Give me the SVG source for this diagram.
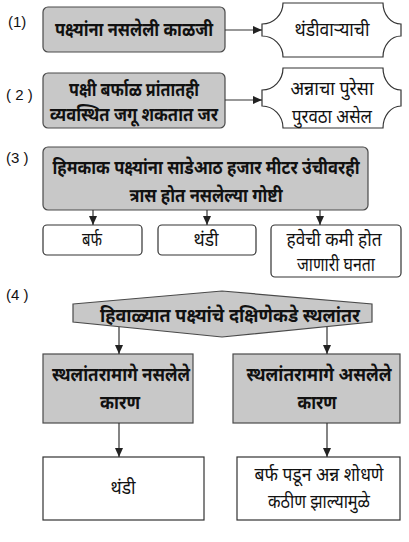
<svg xmlns="http://www.w3.org/2000/svg" width="409" height="542" viewBox="0 0 409 542">
<style>
.gray{fill:#c8c8c8;stroke:#4a4a4a;stroke-width:1.2}
.white{fill:#ffffff;stroke:#333333;stroke-width:1.2}
.t{font-family:"Noto Sans Devanagari","Noto Sans",sans-serif;font-size:19px;fill:#111;text-anchor:middle}
.b{font-weight:bold}
.num{font-family:"Liberation Sans",Arial,sans-serif;font-size:15px;fill:#111}
.conn line{stroke:#333;stroke-width:1.2}
</style>
<defs>
<marker id="ah" markerUnits="userSpaceOnUse" markerWidth="9" markerHeight="8" refX="9" refY="4" orient="auto">
<path d="M0,0 L9,4 L0,8 z" fill="#222"/>
</marker>
</defs>
<rect width="409" height="542" fill="#fff"/>
<text class="num" x="8" y="27">(1)</text>
<text class="num" x="6" y="100">( 2 )</text>
<text class="num" x="6" y="163">(3 )</text>
<text class="num" x="6" y="300">(4 )</text>

<g id="n1">
<rect class="gray" x="43" y="7" width="182" height="45" rx="5"/>
<text class="t b" x="134" y="36" textLength="158" lengthAdjust="spacingAndGlyphs">पक्ष्यांना नसलेली काळजी</text>
</g>
<g id="n1r">
<path class="white" d="M283,3 H383 A18,21 0 0 0 401,24 V36 A18,21 0 0 0 383,57 H283 A21,21 0 0 0 262,36 V24 A21,21 0 0 0 283,3 Z"/>
<text class="t" x="332" y="36" textLength="75" lengthAdjust="spacingAndGlyphs">थंडीवाऱ्याची</text>
</g>
<g id="n2">
<rect class="gray" x="43" y="73" width="182" height="55" rx="5"/>
<text class="t b" x="134" y="96" textLength="130" lengthAdjust="spacingAndGlyphs">पक्षी बर्फाळ प्रांतातही</text>
<text class="t b" x="134" y="121" textLength="168" lengthAdjust="spacingAndGlyphs">व्यवस्थित जगू शकतात जर</text>
</g>
<g id="n2r">
<path class="white" d="M283,68 H383 A18,22 0 0 0 401,90 V106 A18,22 0 0 0 383,128 H283 A21,22 0 0 0 262,106 V90 A21,22 0 0 0 283,68 Z"/>
<text class="t" x="332" y="95" textLength="83" lengthAdjust="spacingAndGlyphs">अन्नाचा पुरेसा</text>
<text class="t" x="332" y="123" textLength="80" lengthAdjust="spacingAndGlyphs">पुरवठा असेल</text>
</g>
<g id="n3">
<rect class="gray" x="43" y="147" width="325" height="63" rx="5"/>
<text class="t b" x="206" y="174" textLength="307" lengthAdjust="spacingAndGlyphs">हिमकाक पक्ष्यांना साडेआठ हजार मीटर उंचीवरही</text>
<text class="t b" x="206" y="202" textLength="153" lengthAdjust="spacingAndGlyphs">त्रास होत नसलेल्या गोष्टी</text>
</g>
<g id="n3a">
<rect class="white" x="43" y="225" width="99" height="30" rx="4"/>
<text class="t" x="92" y="246" textLength="20" lengthAdjust="spacingAndGlyphs">बर्फ</text>
</g>
<g id="n3b">
<rect class="white" x="158" y="225" width="98" height="30" rx="4"/>
<text class="t" x="206" y="246" textLength="25" lengthAdjust="spacingAndGlyphs">थंडी</text>
</g>
<g id="n3c">
<rect class="white" x="271" y="225" width="130" height="52" rx="4"/>
<text class="t" x="334" y="246" textLength="95" lengthAdjust="spacingAndGlyphs">हवेची कमी होत</text>
<text class="t" x="336" y="271" textLength="78" lengthAdjust="spacingAndGlyphs">जाणारी घनता</text>
</g>
<g id="n4">
<polygon class="gray" points="73,304 222,291 372,304 372,322 222,337 73,322"/>
<text class="t b" x="230" y="322" textLength="260" lengthAdjust="spacingAndGlyphs">हिवाळ्यात पक्ष्यांचे दक्षिणेकडे स्थलांतर</text>
</g>
<g id="n4l">
<rect class="gray" x="43" y="354" width="150" height="69"/>
<text class="t b" x="121" y="381" textLength="138" lengthAdjust="spacingAndGlyphs">स्थलांतरामागे नसलेले</text>
<text class="t b" x="120" y="409" textLength="40" lengthAdjust="spacingAndGlyphs">कारण</text>
</g>
<g id="n4r">
<rect class="gray" x="233" y="354" width="167" height="69"/>
<text class="t b" x="319" y="381" textLength="145" lengthAdjust="spacingAndGlyphs">स्थलांतरामागे असलेले</text>
<text class="t b" x="317" y="409" textLength="39" lengthAdjust="spacingAndGlyphs">कारण</text>
</g>
<g id="n5l">
<rect class="white" x="43" y="457" width="161" height="63"/>
<text class="t" x="123" y="494" textLength="25" lengthAdjust="spacingAndGlyphs">थंडी</text>
</g>
<g id="n5r">
<rect class="white" x="237" y="457" width="163" height="63"/>
<text class="t" x="319" y="481" textLength="129" lengthAdjust="spacingAndGlyphs">बर्फ पडून अन्न शोधणे</text>
<text class="t" x="319" y="508" textLength="102" lengthAdjust="spacingAndGlyphs">कठीण झाल्यामुळे</text>
</g>

<g id="connectors" class="conn">
<line x1="225" y1="30" x2="262" y2="30" marker-end="url(#ah)"/>
<line x1="225" y1="100" x2="262" y2="100" marker-end="url(#ah)"/>
<line x1="93" y1="210" x2="93" y2="225" marker-end="url(#ah)"/>
<line x1="207" y1="210" x2="207" y2="225" marker-end="url(#ah)"/>
<line x1="320" y1="210" x2="320" y2="225" marker-end="url(#ah)"/>
<line x1="119" y1="327" x2="119" y2="354" marker-end="url(#ah)"/>
<line x1="327" y1="327" x2="327" y2="354" marker-end="url(#ah)"/>
<line x1="119" y1="423" x2="119" y2="457" marker-end="url(#ah)"/>
<line x1="327" y1="423" x2="327" y2="457" marker-end="url(#ah)"/>
</g>
</svg>
